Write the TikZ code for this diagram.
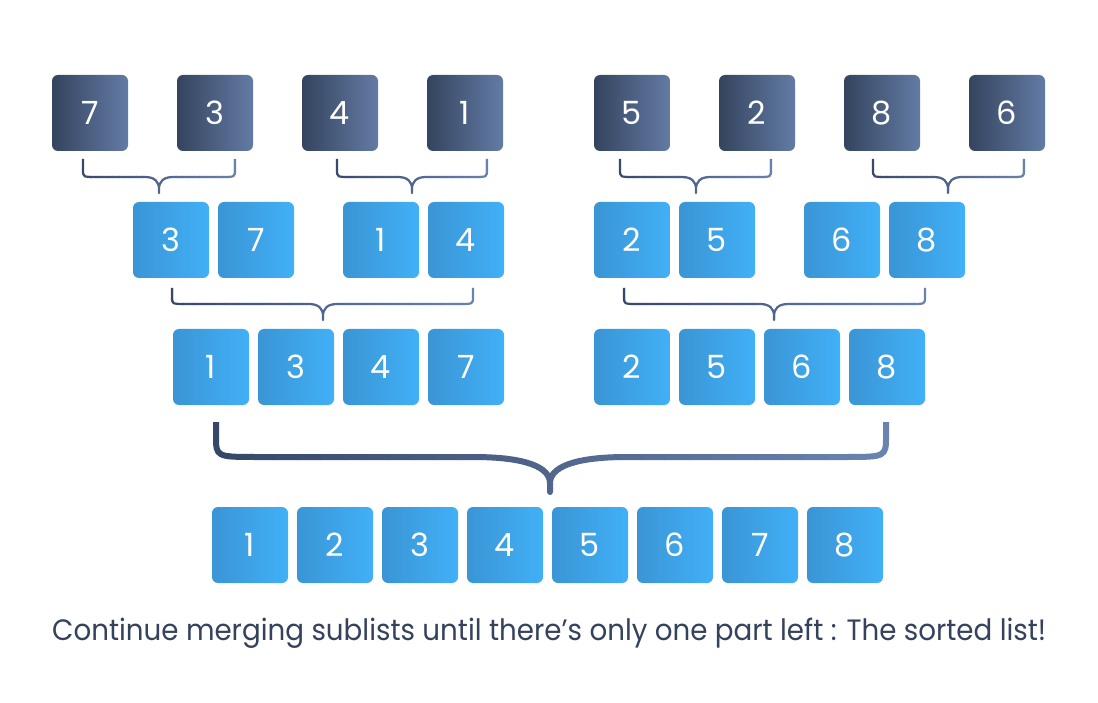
\documentclass[tikz,border=0pt]{standalone}
\usepackage{fontspec}
\setmainfont{Poppins}
\definecolor{dkL}{HTML}{34445E}
\definecolor{dkR}{HTML}{637BA5}
\definecolor{ltL}{HTML}{3A95D5}
\definecolor{ltR}{HTML}{41B0F7}
\definecolor{brL}{HTML}{37476A}
\definecolor{brR}{HTML}{6A84B0}
\definecolor{capc}{HTML}{34425C}
\tikzset{
  numbox/.style={rectangle, rounded corners=6pt, minimum width=76pt, minimum height=76pt,
    inner sep=0pt, text=white, font=\fontsize{32}{32}\selectfont},
  darkbox/.style={numbox, left color=dkL, right color=dkR},
  lightbox/.style={numbox, left color=ltL, right color=ltR},
}
% #1 line width, #2 x1, #3 x2, #4 xc, #5 ytop, #6 yh, #7 ytip, #8 rh, #9 cw
\newcommand\gradbrace[9][2pt]{%
  \foreach \i in {0,...,29}{%
    \pgfmathsetmacro\pc{100*\i/29}%
    \pgfmathsetmacro\sw{(#3-#2+20)/30}%
    \begin{scope}
      \clip ({#2-10+\sw*\i},{#5-10}) rectangle ({#2-10+\sw*(\i+1)+0.7},{#7+10});
      \draw[line width=#1, color=brR!\pc!brL, line join=round]
        (#2,#5) -- (#2,{#6-0.5*#8}) .. controls (#2,#6) .. ({#2+#8},#6)
        -- ({#4-#9},#6) .. controls ({#4-0.3*#9},#6) and (#4,{#6+0.3*(#7-#6)}) .. (#4,{#7-0.25*(#7-#6)})
        -- (#4,#7) -- (#4,{#7-0.25*(#7-#6)})
        .. controls (#4,{#6+0.3*(#7-#6)}) and ({#4+0.3*#9},#6) .. ({#4+#9},#6)
        -- ({#3-#8},#6) .. controls (#3,#6) .. (#3,{#6-0.5*#8}) -- (#3,#5);
    \end{scope}}%
}
\begin{document}
\begin{tikzpicture}[x=1pt,y=-1pt]
\useasboundingbox[fill=white] (0,0) rectangle (1098,703);
% row 1
\foreach \n/\x/\v in {1/90/7,2/215/3,3/340/4,4/465/1,5/632/5,6/757/2,7/882/8,8/1007/6}
  \node[darkbox] (d\n) at (\x,113) {\v};
% row 2
\foreach \n/\x/\v in {1/171/3,2/256/7,3/381/1,4/466/4,5/632/2,6/717/5,7/842/6,8/927/8}
  \node[lightbox] (s\n) at (\x,240) {\v};
% row 3
\foreach \n/\x/\v in {1/211/1,2/296/3,3/381/4,4/466/7,5/632/2,6/717/5,7/802/6,8/887/8}
  \node[lightbox] (t\n) at (\x,367) {\v};
% row 4
\foreach \n/\x/\v in {1/250/1,2/335/2,3/420/3,4/505/4,5/590/5,6/675/6,7/760/7,8/845/8}
  \node[lightbox] (f\n) at (\x,545) {\v};
% braces
\gradbrace[2.2pt]{83}{235}{159}{159}{177}{193}{14}{14}
\gradbrace[2.2pt]{337}{487}{412}{159}{177}{193}{14}{14}
\gradbrace[2.2pt]{620}{771}{696}{159}{177}{193}{14}{14}
\gradbrace[2.2pt]{873}{1024}{948}{159}{177}{193}{14}{14}
\gradbrace[2.2pt]{172}{473}{323}{288}{304}{320}{14}{14}
\gradbrace[2.2pt]{624}{925}{774}{288}{304}{320}{14}{14}
\gradbrace[6pt]{216}{886}{550}{422}{457}{492}{42}{77}
% caption
\node[anchor=base west, inner sep=0pt, text=capc] (cap) at (52,640)
  {\resizebox{994pt}{22.5pt}{Continue merging sublists until there’s only one part left : The sorted list!}};
\end{tikzpicture}
\end{document}
